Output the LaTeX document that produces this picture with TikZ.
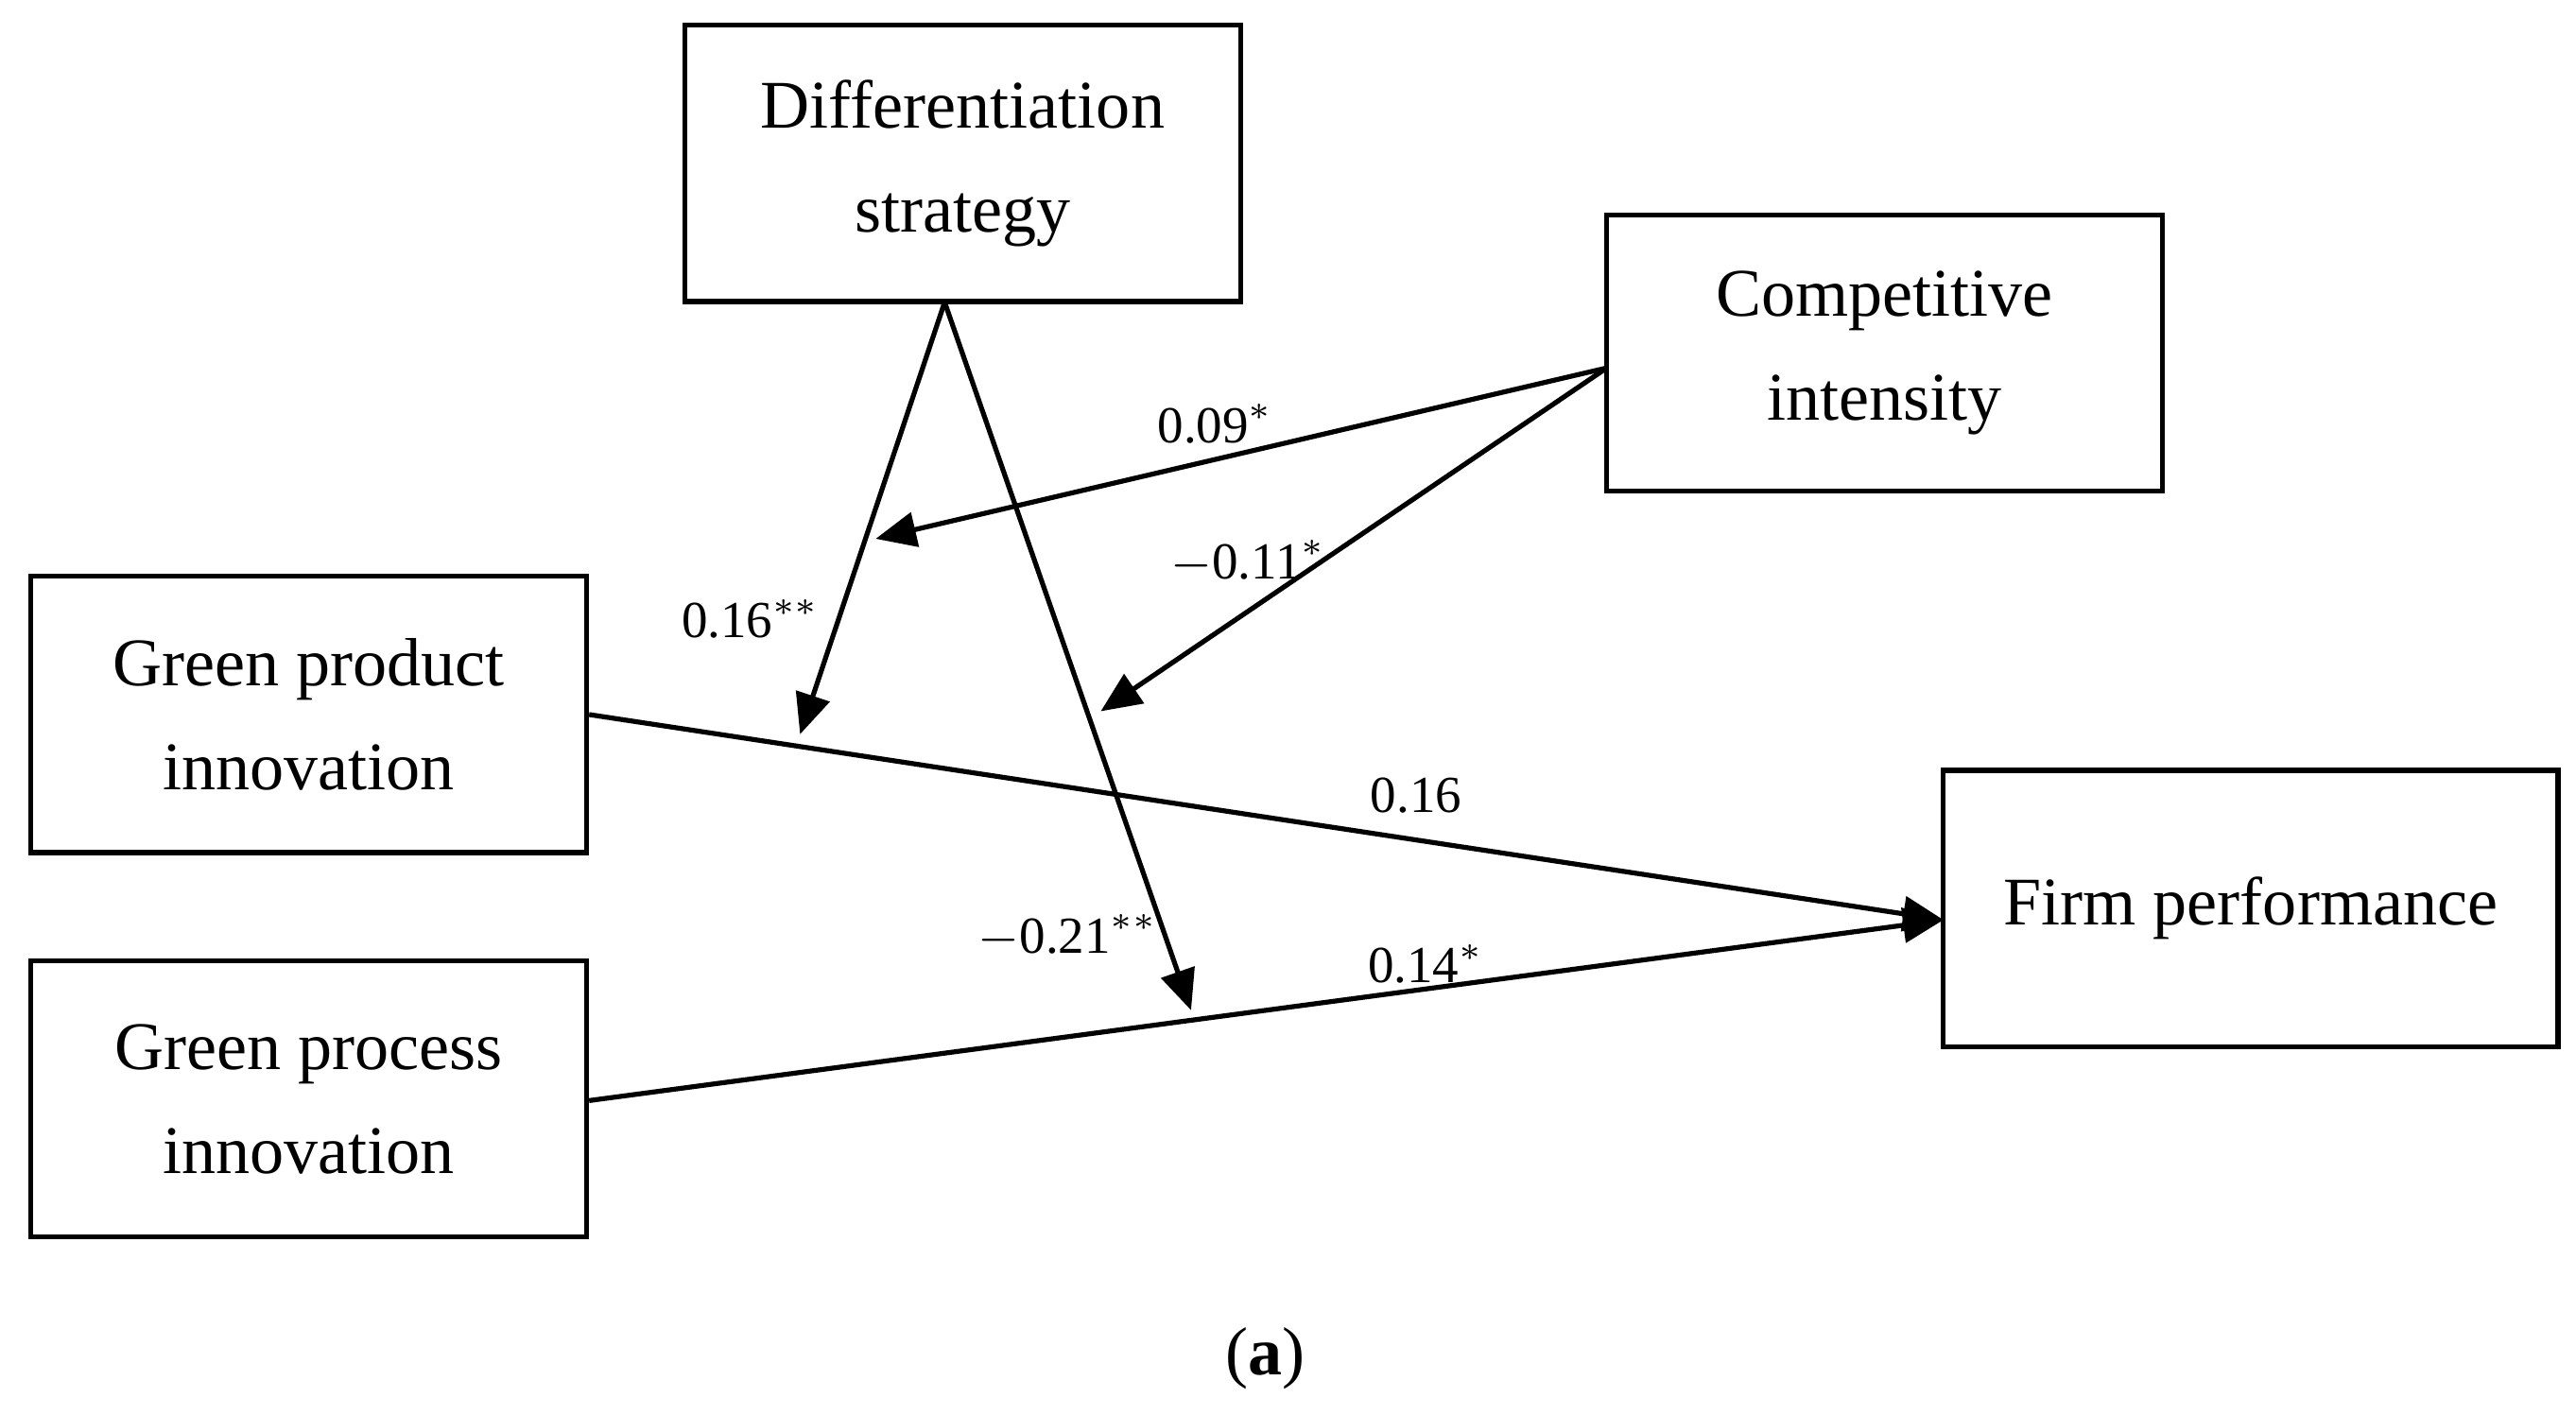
\documentclass[tikz,border=0pt]{standalone}
\usepackage{fontspec}
\setmainfont{Liberation Serif}
\usetikzlibrary{arrows.meta}
\begin{document}
\begin{tikzpicture}[x=0.01cm,y=-0.01cm,
 box/.style={draw,line width=0.85pt,minimum width=3.38cm,minimum height=1.68cm,align=center,font=\fontsize{11.8}{18}\selectfont},
 arr/.style={line width=0.85pt,-{Triangle[length=7pt,width=6pt]}},
 lab/.style={font=\fontsize{9}{10}\selectfont,inner sep=0pt}]
\useasboundingbox (0,0) rectangle (1568,861);
\node[box] (ds) at (586,99.5) {Differentiation\\strategy};
\node[box] (ci) at (1147,215) {Competitive\\intensity};
\node[box] (gp) at (188,435) {Green product\\innovation};
\node[box] (gr) at (188,669) {Green process\\innovation};
\node[box,minimum width=3.74cm] (fp) at (1370,553) {Firm performance};
\coordinate (dsb) at (575,184);
\coordinate (cil) at (978,224);
\coordinate (m1) at (487,447);
\coordinate (m2) at (725,615);
\coordinate (m3) at (533,328);
\coordinate (m4) at (670,433);
\coordinate (fpin) at (1183,560);
\draw[arr] (gp.east |- 0,435) -- (fpin);
\draw[arr] (gr.east |- 0,670) -- (fpin);
\draw[arr] (dsb) -- (m1);
\draw[arr] (dsb) -- (m2);
\draw[arr] (cil) -- (m3);
\draw[arr] (cil) -- (m4);
\node[lab] at (740,258) {0.09$^{*}$};
\node[lab] at (760,342) {$-$0.11$^{*}$};
\node[lab] at (457,377) {0.16$^{**}$};
\node[lab] at (862,484) {0.16};
\node[lab] at (650,570) {$-$0.21$^{**}$};
\node[lab] at (868,587) {0.14$^{*}$};
\node[font=\fontsize{11.8}{12}\selectfont] at (770,827) {(\textbf{a})};
\end{tikzpicture}
\end{document}
